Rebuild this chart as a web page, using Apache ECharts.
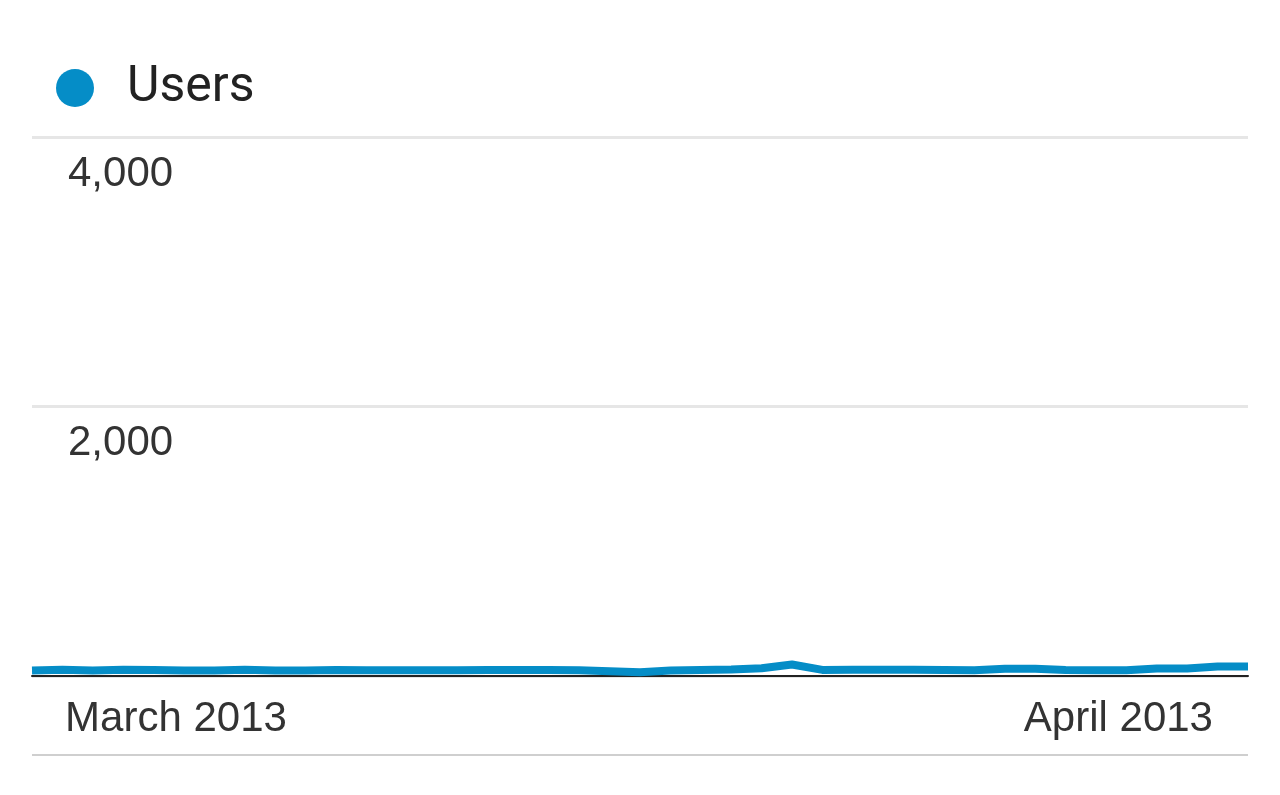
<!DOCTYPE html>
<html>
<head>
<meta charset="utf-8">
<script src="https://cdn.jsdelivr.net/npm/echarts@6/dist/echarts.min.js"></script>
<style>
html,body{margin:0;padding:0;background:#fff;}
#c{width:1280px;height:795px;}
</style>
</head>
<body>
<div id="c"></div>
<script>
// Daily dates, Feb 24 2013 – Apr 5 2013
const dates = [
 '2013-02-24','2013-02-25','2013-02-26','2013-02-27','2013-02-28',
 '2013-03-01','2013-03-02','2013-03-03','2013-03-04','2013-03-05','2013-03-06','2013-03-07','2013-03-08','2013-03-09','2013-03-10',
 '2013-03-11','2013-03-12','2013-03-13','2013-03-14','2013-03-15','2013-03-16','2013-03-17','2013-03-18','2013-03-19','2013-03-20',
 '2013-03-21','2013-03-22','2013-03-23','2013-03-24','2013-03-25','2013-03-26','2013-03-27','2013-03-28','2013-03-29','2013-03-30','2013-03-31',
 '2013-04-01','2013-04-02','2013-04-03','2013-04-04','2013-04-05'
];
const users = [
 40,46,40,46,44,
 40,40,46,40,40,45,42,42,42,42,
 45,45,45,43,36,28,40,45,48,58,
 85,45,46,46,46,44,42,54,54,44,42,
 42,56,56,70,70
];
const monthLabels = {'2013-03-01':'March 2013','2013-04-01':'April 2013'};
const yTicks = [0, 2000, 4000];

const chart = echarts.init(document.getElementById('c'));
chart.setOption({
  animation: false,
  backgroundColor: '#fff',
  legend: {
    left: 51, top: 58,
    icon: 'circle',
    itemWidth: 38, itemHeight: 38,
    textStyle: {fontFamily: 'Roboto', fontSize: 50, color: '#222', padding: [0,0,0,28]},
    data: ['Users']
  },
  grid: {left: 32, right: 32, top: 137, bottom: 119, containLabel: false},
  xAxis: {
    type: 'category',
    data: dates,
    boundaryGap: false,
    axisLine: {lineStyle: {color: '#222', width: 2}},
    axisTick: {show: false},
    splitLine: {show: false},
    axisLabel: {
      interval: function (i, v) { return !!monthLabels[v]; },
      formatter: function (v) { return monthLabels[v] || ''; },
      fontFamily: 'Liberation Sans', fontSize: 42, color: '#333',
      margin: 22, padding: [0, 16, 0, 0]
    }
  },
  yAxis: {
    type: 'value',
    min: yTicks[0], max: yTicks[2], interval: yTicks[1] - yTicks[0],
    axisLine: {show: false},
    axisTick: {show: false},
    splitLine: {lineStyle: {color: '#e6e6e6', width: 3}},
    axisLabel: {
      inside: true, margin: 36, showMinLabel: false,
      verticalAlign: 'top', padding: [16, 0, 0, 0],
      fontFamily: 'Liberation Sans', fontSize: 42, color: '#333',
      formatter: function (v) { return v.toLocaleString('en-US'); }
    }
  },
  graphic: [{
    type: 'rect', left: 32, top: 754,
    shape: {width: 1216, height: 2},
    style: {fill: '#cfcfcf'}
  }],
  series: [{
    name: 'Users',
    type: 'line',
    data: users,
    symbol: 'none',
    color: '#058dc7',
    lineStyle: {color: '#058dc7', width: 8},
    smooth: false
  }]
});
</script>
</body>
</html>
